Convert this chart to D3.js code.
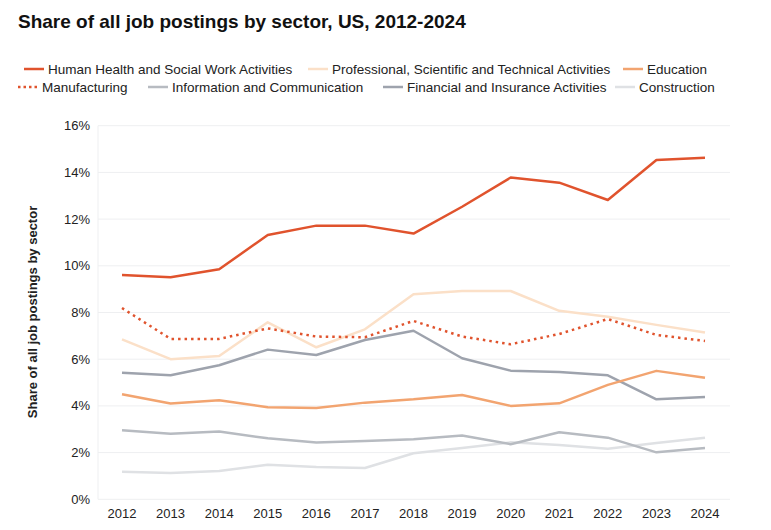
<!DOCTYPE html>
<html><head><meta charset="utf-8">
<script src="https://cdn.jsdelivr.net/npm/d3@7"></script>
<style>
body{margin:0;background:#fff;font-family:"Liberation Sans",Arial,sans-serif;}
</style></head>
<body><div id="chart"></div>
<script>
var years = [2012,2013,2014,2015,2016,2017,2018,2019,2020,2021,2022,2023,2024];
var health = [9.61,9.51,9.85,11.32,11.72,11.72,11.38,12.53,13.78,13.56,12.82,14.53,14.63];
var professional = [6.85,6.0,6.14,7.58,6.51,7.28,8.78,8.92,8.92,8.07,7.82,7.47,7.14];
var education = [4.5,4.1,4.24,3.94,3.91,4.14,4.28,4.47,4.0,4.11,4.9,5.5,5.21];
var manufacturing = [8.19,6.87,6.87,7.32,6.97,6.94,7.64,6.97,6.64,7.08,7.72,7.04,6.78];
var information = [2.96,2.81,2.9,2.61,2.43,2.5,2.57,2.73,2.36,2.87,2.64,2.01,2.2];
var financial = [5.42,5.31,5.74,6.41,6.18,6.82,7.22,6.04,5.51,5.45,5.31,4.28,4.38];
var construction = [1.18,1.13,1.21,1.48,1.38,1.34,1.97,2.2,2.44,2.33,2.16,2.41,2.64];
var yTicks = [0,2,4,6,8,10,12,14,16];

var series = [
  {name:"Construction", values:construction, color:"#dfe1e4"},
  {name:"Information and Communication", values:information, color:"#b7bbc1"},
  {name:"Financial and Insurance Activities", values:financial, color:"#9ea3ad"},
  {name:"Education", values:education, color:"#f2a470"},
  {name:"Professional, Scientific and Technical Activities", values:professional, color:"#fbe0c8"},
  {name:"Manufacturing", values:manufacturing, color:"#e0532d", dotted:true},
  {name:"Human Health and Social Work Activities", values:health, color:"#e0532d"}
];
var byName = {};
series.forEach(function (s) { byName[s.name] = s; });

var svg = d3.select("#chart").append("svg").attr("width", 771).attr("height", 530);

svg.append("text").attr("x", 18).attr("y", 28).text("Share of all job postings by sector, US, 2012-2024")
  .attr("font-size", 19).attr("font-weight", "bold").attr("fill", "#111");

// legend
var legendRows = [
  [["Human Health and Social Work Activities", 24], ["Professional, Scientific and Technical Activities", 308], ["Education", 623]],
  [["Manufacturing", 18], ["Information and Communication", 148], ["Financial and Insurance Activities", 383], ["Construction", 615]]
];
legendRows.forEach(function (row, r) {
  var y = 69 + r * 18;
  row.forEach(function (item) {
    var s = byName[item[0]];
    svg.append("line").attr("x1", item[1]).attr("x2", item[1] + 20).attr("y1", y).attr("y2", y)
      .attr("stroke", s.color).attr("stroke-width", 2.5)
      .attr("stroke-dasharray", s.dotted ? "2.5,3" : null);
    svg.append("text").attr("x", item[1] + 24).attr("y", y + 4.5).text(s.name)
      .attr("font-size", 13.5).attr("fill", "#222");
  });
});

var x = d3.scalePoint().domain(years).range([122, 705]);
var y = d3.scaleLinear().domain([0, 16]).range([499.3, 125.7]);

svg.append("g").selectAll("line").data(yTicks).enter().append("line")
  .attr("x1", 98).attr("x2", 730)
  .attr("y1", function (d) { return y(d); }).attr("y2", function (d) { return y(d); })
  .attr("stroke", "#eeeff1").attr("stroke-width", 1);
svg.append("line").attr("x1", 98).attr("x2", 98).attr("y1", y(16)).attr("y2", y(0))
  .attr("stroke", "#eeeff1");

svg.append("g").selectAll("text").data(yTicks).enter().append("text")
  .attr("x", 90).attr("y", function (d) { return y(d) + 4.5; })
  .attr("text-anchor", "end").attr("font-size", 13).attr("fill", "#222")
  .text(function (d) { return d + "%"; });

svg.append("g").selectAll("text").data(years).enter().append("text")
  .attr("x", function (d) { return x(d); }).attr("y", 518)
  .attr("text-anchor", "middle").attr("font-size", 13).attr("fill", "#222")
  .text(function (d) { return d; });

svg.append("text").attr("transform", "translate(37,312) rotate(-90)")
  .attr("text-anchor", "middle").attr("font-size", 13).attr("font-weight", "bold").attr("fill", "#222")
  .text("Share of all job postings by sector");

var line = d3.line().x(function (d, i) { return x(years[i]); }).y(function (d) { return y(d); });

svg.append("g").selectAll("path").data(series).enter().append("path")
  .attr("d", function (d) { return line(d.values); })
  .attr("fill", "none")
  .attr("stroke", function (d) { return d.color; })
  .attr("stroke-width", 2.5)
  .attr("stroke-dasharray", function (d) { return d.dotted ? "2.5,4" : null; })
  .attr("stroke-linejoin", "round");
</script>
</body></html>
